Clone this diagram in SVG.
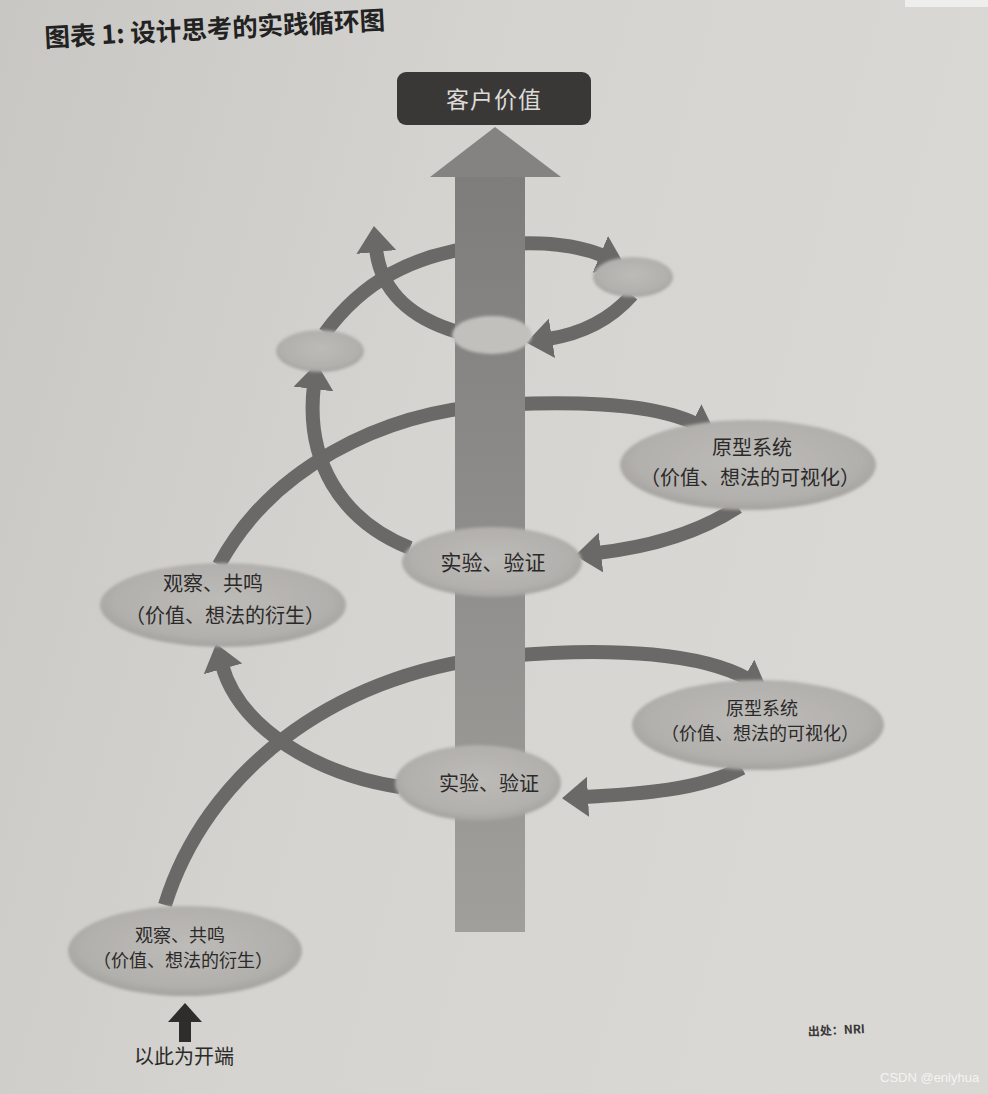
<svg xmlns="http://www.w3.org/2000/svg" width="988" height="1094" viewBox="0 0 988 1094">
  <defs>
    <linearGradient id="page" x1="0" y1="0" x2="1" y2="0.3">
      <stop offset="0" stop-color="#c8c7c3"/>
      <stop offset="0.5" stop-color="#d5d4d0"/>
      <stop offset="1" stop-color="#d9d8d4"/>
    </linearGradient>
    <linearGradient id="shaft" x1="0" y1="0" x2="0" y2="1">
      <stop offset="0" stop-color="#7f7d7b"/>
      <stop offset="1" stop-color="#a19f9c"/>
    </linearGradient>
    <radialGradient id="ell" cx="0.5" cy="0.45" r="0.55">
      <stop offset="0" stop-color="#bdbbb8"/>
      <stop offset="0.8" stop-color="#b2b0ad"/>
      <stop offset="1" stop-color="#a4a29f"/>
    </radialGradient>
    <filter id="soft" x="-10%" y="-10%" width="120%" height="120%">
      <feGaussianBlur stdDeviation="1.6"/>
    </filter>
    <marker id="ah" markerUnits="userSpaceOnUse" viewBox="0 0 26 40" markerWidth="26" markerHeight="40" refX="4" refY="20" orient="auto">
      <path d="M0,0 L26,20 L0,40 Z" fill="#6b6967"/>
    </marker>
    <style>
      .conn { fill: none; stroke: #6b6967; stroke-width: 14; marker-end: url(#ah); }
      .el { fill: url(#ell); filter: url(#soft); }
      .lbl { font-family: "Noto Sans CJK SC", "Noto Sans CJK JP", sans-serif; fill: #2b2a29; text-anchor: middle; }
    </style>
  </defs>

  <rect x="0" y="0" width="988" height="1094" fill="url(#page)"/>
  <rect x="905" y="0" width="83" height="7" fill="#eeeeec"/>

  <g id="title">
    <text x="45" y="47" transform="rotate(-3 45 47)" font-family="'Noto Sans CJK SC', sans-serif" font-weight="bold" font-size="25.5" fill="#222">图表 1: 设计思考的实践循环图</text>
  </g>

  <g id="connectors">
    <!-- lower loop -->
    <path class="conn" d="M165,905 C 205,775 330,675 495,657 C 620,645 705,655 748,679"/>
    <path class="conn" d="M742,768 C 700,790 640,794 584,797"/>
    <path class="conn" d="M400,787 C 320,775 240,730 222,665"/>
    <!-- middle loop -->
    <path class="conn" d="M219,565 C 270,470 380,412 495,405 C 590,400 660,406 696,424"/>
    <path class="conn" d="M738,507 C 700,532 650,547 597,553"/>
    <path class="conn" d="M410,548 C 340,520 305,460 314,385"/>
    <!-- top loop -->
    <path class="conn" d="M325,333 C 360,285 410,252 495,245 C 545,240 580,246 604,256"/>
    <path class="conn" d="M632,295 C 610,320 580,334 548,339"/>
    <path class="conn" d="M458,332 C 410,318 380,290 376,248"/>
  </g>

  <g id="value-arrow">
    <rect x="455" y="175" width="70" height="757" fill="url(#shaft)"/>
    <path d="M430,177 L495,127 L561,177 Z" fill="#858381"/>
  </g>

  <g id="customer-value">
    <rect x="397" y="72" width="194" height="53" rx="9" fill="#3a3836"/>
    <text x="494" y="108" font-family="'Noto Sans CJK SC', sans-serif" font-size="23" fill="#dcdbd8" text-anchor="middle" letter-spacing="1">客户价值</text>
  </g>

  <g id="n-top-left"><ellipse class="el" cx="320" cy="351" rx="44" ry="21"/></g>
  <g id="n-top-center"><ellipse class="el" cx="492" cy="335" rx="40" ry="19" style="fill:#c2c0bd"/></g>
  <g id="n-top-right"><ellipse class="el" cx="633" cy="277" rx="40" ry="20"/></g>

  <g id="n-prototype-2">
    <ellipse class="el" cx="748" cy="465" rx="128" ry="45"/>
    <text class="lbl" x="752" y="455" font-size="20">原型系统</text>
    <text class="lbl" x="750" y="485" font-size="20">（价值、想法的可视化）</text>
  </g>
  <g id="n-experiment-2">
    <ellipse class="el" cx="492" cy="562" rx="90" ry="35"/>
    <text class="lbl" x="493" y="570" font-size="21">实验、验证</text>
  </g>
  <g id="n-observe-2">
    <ellipse class="el" cx="223" cy="605" rx="123" ry="42"/>
    <text class="lbl" x="213" y="591" font-size="20">观察、共鸣</text>
    <text class="lbl" x="225" y="623" font-size="20">（价值、想法的衍生）</text>
  </g>
  <g id="n-prototype-1">
    <ellipse class="el" cx="758" cy="725" rx="126" ry="45"/>
    <text class="lbl" x="762" y="715" font-size="18">原型系统</text>
    <text class="lbl" x="760" y="740" font-size="18">（价值、想法的可视化）</text>
  </g>
  <g id="n-experiment-1">
    <ellipse class="el" cx="478" cy="783" rx="83" ry="38"/>
    <text class="lbl" x="489" y="791" font-size="20">实验、验证</text>
  </g>
  <g id="n-observe-1">
    <ellipse class="el" cx="185" cy="951" rx="117" ry="45"/>
    <text class="lbl" x="180" y="942" font-size="18">观察、共鸣</text>
    <text class="lbl" x="183" y="967" font-size="18">（价值、想法的衍生）</text>
  </g>

  <g id="start">
    <path d="M168,1022 L185,1003 L202,1022 Z" fill="#2e2d2c"/>
    <rect x="179" y="1020" width="12" height="22" fill="#2e2d2c"/>
    <text class="lbl" x="184" y="1064" font-size="20">以此为开端</text>
  </g>

  <g id="source">
    <text x="808" y="1036" transform="rotate(-3 808 1036)" font-family="'Noto Sans CJK SC', serif" font-size="12" font-weight="bold" fill="#3a3938">出处：NRI</text>
  </g>
  <text x="880" y="1082" font-family="'Liberation Sans', sans-serif" font-size="13" fill="#f4f4f2">CSDN @enlyhua</text>
</svg>
